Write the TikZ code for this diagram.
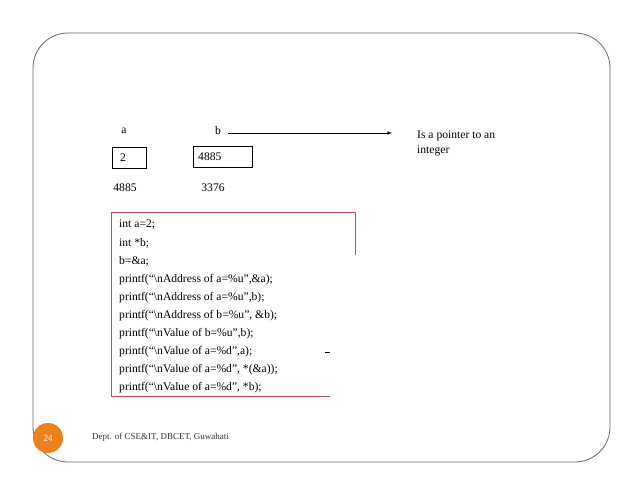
\documentclass[tikz,border=0pt]{standalone}
\usepackage{fontspec}
\setmainfont{Liberation Serif}
\definecolor{boxred}{RGB}{190,80,95}
\definecolor{orng}{RGB}{236,128,28}
\begin{document}
\begin{tikzpicture}[x=1pt,y=-1pt,
  txt/.style={inner sep=0pt,font=\fontsize{11.6}{13}\selectfont},
  cell/.style={draw,line width=0.7pt,minimum height=21pt,anchor=north west,inner sep=0pt}]
\useasboundingbox (0,0) rectangle (638,493);
\draw[line width=0.8pt,rounded corners=35pt,gray!80!black] (33,33) rectangle (610,462);
% labels
\node[txt] (la) at (124,131) {a};
\node[txt] (lb) at (218,131) {b};
\node[cell,minimum width=34pt] (ca) at (112,147) {};
\node[txt,anchor=west] at (120,157.5) {2};
\node[cell,minimum width=59pt] (cb) at (193,146) {};
\node[txt,anchor=west] at (198,157) {4885};
\node[txt] (ad1) at (125,188) {4885};
\node[txt] (ad2) at (213,188) {3376};
\coordinate (ae) at (392,133);
\draw[-latex,line width=0.6pt] (228,133) -- (ae);
\node[txt,anchor=north west,align=left] (ptr) at (417,131) {Is a pointer to an\\[2pt]integer};
% code box
\draw[boxred,line width=0.8pt] (355,255) -- (355,212) -- (111,212) -- (111,396) -- (330,396);
\draw[line width=0.5pt] (325,352) -- (330,352);
\foreach \t [count=\i] in {int a=2;, int *b;, b=\&a;,
  printf(“\textbackslash nAddress of a=\%u”{,}\&a);,
  printf(“\textbackslash nAddress of a=\%u”{,}b);,
  printf(“\textbackslash nAddress of b=\%u”{,} \&b);,
  printf(“\textbackslash nValue of b=\%u”{,}b);,
  printf(“\textbackslash nValue of a=\%d”{,}a);,
  printf(“\textbackslash nValue of a=\%d”{,} *(\&a));,
  printf(“\textbackslash nValue of a=\%d”{,} *b);}
  \node[txt,anchor=west] (code\i) at (119,{225+18.1*(\i-1)}) {\t};
% footer
\node[circle,fill=orng,minimum size=30pt,inner sep=0pt,text=white,font=\fontsize{9.5}{10}\selectfont\sffamily] (pg) at (48,438) {24};
\node[txt,anchor=west,font=\fontsize{9}{10}\selectfont,text=black!80] (ft) at (92,437) {Dept. of CSE\&IT, DBCET, Guwahati};
\end{tikzpicture}
\end{document}
